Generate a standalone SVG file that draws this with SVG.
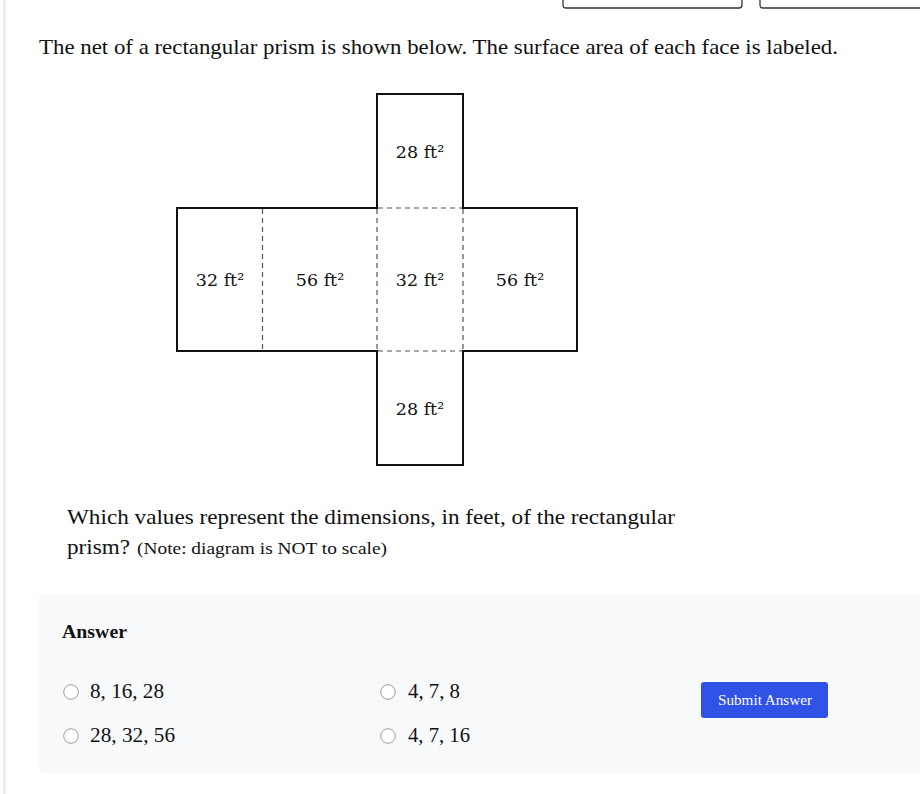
<svg xmlns="http://www.w3.org/2000/svg" width="920" height="794" viewBox="0 0 920 794">
<style>
.serif{font-family:"Liberation Serif","DejaVu Serif",serif;fill:#111}
.lbl{font-family:"DejaVu Serif","Liberation Serif",serif;font-size:17.5px;fill:#111;text-anchor:middle}
.area{fill:none;stroke:none}
.outline{fill:none;stroke:#111;stroke-width:2;stroke-linejoin:miter}
.fold{stroke:#555;stroke-width:1.2;stroke-dasharray:5,4;fill:none}
.radio{fill:#fff;stroke:#9a9ca3;stroke-width:1}
.opt{font-family:"Liberation Serif","DejaVu Serif",serif;font-size:20px;fill:#111}
</style>
<rect x="0" y="0" width="920" height="794" fill="#fff"/>
<rect x="3" y="0" width="3" height="794" fill="#ecedf3"/>
<path d="M563 -4 V5 Q563 8 566 8 H739 Q742 8 742 5 V-4" fill="none" stroke="#333" stroke-width="1.3"/>
<path d="M760 -4 V5 Q760 8 763 8 H930" fill="none" stroke="#333" stroke-width="1.3"/>
<text class="serif" x="39" y="54" font-size="21" textLength="799" lengthAdjust="spacingAndGlyphs">The net of a rectangular prism is shown below. The surface area of each face is labeled.</text>

<path class="outline" d="M377 94 H463 V208 H577 V351 H463 V465 H377 V351 H177 V208 H377 Z"/>

<g id="face-top">
<rect class="area" x="377" y="94" width="86" height="114"/>
<text class="lbl" x="420" y="158">28 ft²</text>
</g>
<g id="face-left">
<rect class="area" x="177" y="208" width="85" height="143"/>
<text class="lbl" x="220" y="286">32 ft²</text>
</g>
<g id="face-midleft">
<rect class="area" x="262" y="208" width="115" height="143"/>
<text class="lbl" x="320" y="286">56 ft²</text>
</g>
<g id="face-center">
<rect class="area" x="377" y="208" width="86" height="143"/>
<text class="lbl" x="420" y="286">32 ft²</text>
</g>
<g id="face-right">
<rect class="area" x="463" y="208" width="114" height="143"/>
<text class="lbl" x="520" y="286">56 ft²</text>
</g>
<g id="face-bottom">
<rect class="area" x="377" y="351" width="86" height="114"/>
<text class="lbl" x="420" y="415">28 ft²</text>
</g>
<g id="connectors">
<line class="fold" x1="262.5" y1="209" x2="262.5" y2="350"/>
<line class="fold" x1="377" y1="209" x2="377" y2="350"/>
<line class="fold" x1="463" y1="209" x2="463" y2="350"/>
<line class="fold" x1="378" y1="208" x2="462" y2="208"/>
<line class="fold" x1="378" y1="351" x2="462" y2="351"/>
</g>

<text class="serif" x="67" y="524" font-size="21" textLength="608" lengthAdjust="spacingAndGlyphs">Which values represent the dimensions, in feet, of the rectangular</text>
<text class="serif" x="67" y="554" font-size="21" textLength="63" lengthAdjust="spacingAndGlyphs">prism?</text>
<text class="serif" x="137" y="554" font-size="17" textLength="250" lengthAdjust="spacingAndGlyphs">(Note: diagram is NOT to scale)</text>

<rect x="39" y="594" width="890" height="179" rx="3" fill="#f8f9fb"/>
<text class="serif" x="62" y="638" font-size="18" font-weight="bold" textLength="65" lengthAdjust="spacingAndGlyphs">Answer</text>

<g id="opt1"><circle class="radio" cx="71" cy="692" r="7.3"/><text class="opt" x="90" y="698" textLength="74" lengthAdjust="spacingAndGlyphs">8, 16, 28</text></g>
<g id="opt2"><circle class="radio" cx="71" cy="736" r="7.3"/><text class="opt" x="90" y="742" textLength="85" lengthAdjust="spacingAndGlyphs">28, 32, 56</text></g>
<g id="opt3"><circle class="radio" cx="388" cy="692" r="7.3"/><text class="opt" x="408" y="698" textLength="52" lengthAdjust="spacingAndGlyphs">4, 7, 8</text></g>
<g id="opt4"><circle class="radio" cx="388" cy="736" r="7.3"/><text class="opt" x="408" y="742" textLength="62" lengthAdjust="spacingAndGlyphs">4, 7, 16</text></g>

<g id="submit">
<rect x="701" y="682" width="127" height="36" rx="3" fill="#3152e6"/>
<text x="765" y="705" font-family="Liberation Serif, DejaVu Serif, serif" font-size="15" fill="#fff" text-anchor="middle" textLength="94" lengthAdjust="spacingAndGlyphs">Submit Answer</text>
</g>
</svg>
